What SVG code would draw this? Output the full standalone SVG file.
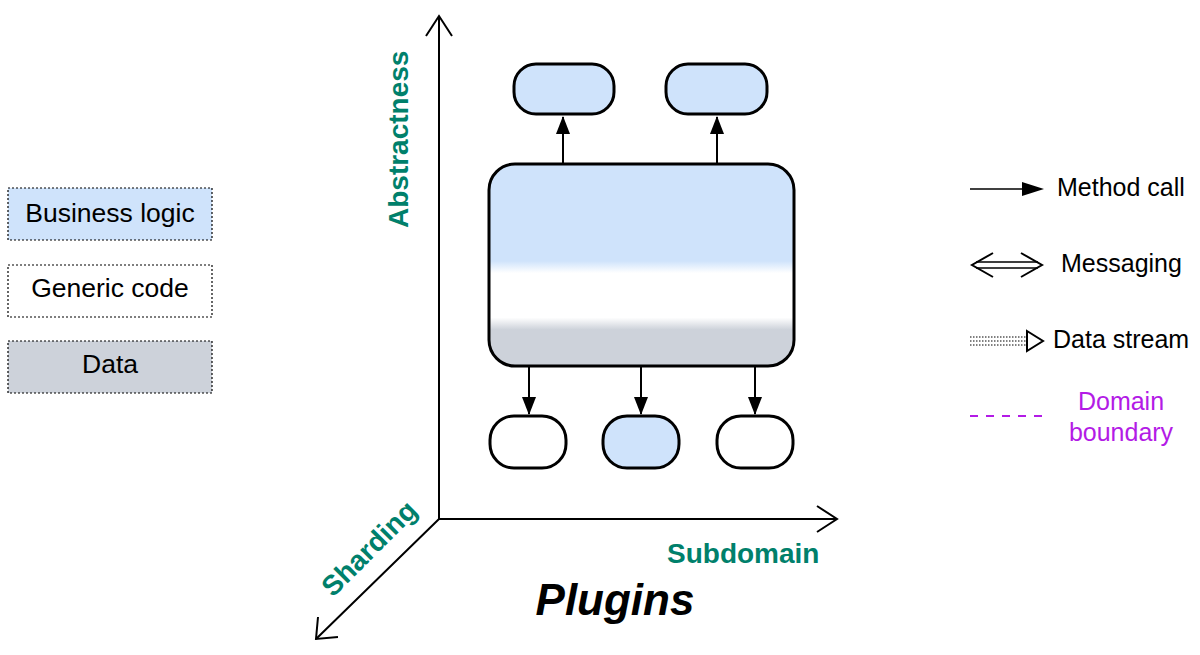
<svg xmlns="http://www.w3.org/2000/svg" width="1200" height="655" viewBox="0 0 1200 655">
<style>
.t{font-family:"Liberation Sans",Arial,sans-serif;font-size:26.5px;fill:#000}
.ax{font-family:"Liberation Sans",Arial,sans-serif;font-size:28px;font-weight:bold;fill:#00806b}
.lg{stroke:#000;stroke-width:1.2;stroke-dasharray:2 2}
.nd{stroke:#000;stroke-width:3}
.ln{stroke:#000;stroke-width:2;fill:none}
.lt{font-family:"Liberation Sans",Arial,sans-serif;font-size:25px;fill:#000}
</style>
<defs>
<linearGradient id="g" x1="0" y1="0" x2="0" y2="1">
<stop offset="0.48" stop-color="#cfe3fb"/>
<stop offset="0.54" stop-color="#fff"/>
<stop offset="0.76" stop-color="#fff"/>
<stop offset="0.82" stop-color="#cdd2da"/>
</linearGradient>
<marker id="a" markerWidth="18" markerHeight="14" refX="17" refY="7" orient="auto" markerUnits="userSpaceOnUse" viewBox="0 0 18 14"><path d="M0,0L18,7L0,14Z" fill="#000"/></marker>
</defs>
<g id="legend-boxes">
<rect x="8" y="188" width="204" height="52" fill="#cfe3fb" class="lg"/>
<text x="110" y="222" text-anchor="middle" class="t">Business logic</text>
<rect x="8" y="265" width="204" height="52" fill="#fff" class="lg"/>
<text x="110" y="297" text-anchor="middle" class="t">Generic code</text>
<rect x="8" y="341" width="204" height="52" fill="#cdd2da" class="lg"/>
<text x="110" y="373" text-anchor="middle" class="t">Data</text>
</g>
<g id="axes">
<path class="ln" d="M439,519V16M439,519H837M439,519L316,639"/>
<path class="ln" d="M426,36L439,16L452,36M817,506L837,519L817,532M318,617L316,639L338,637"/>
<text class="ax" transform="translate(408,228) rotate(-90)">Abstractness</text>
<text class="ax" x="667" y="563">Subdomain</text>
<text class="ax" transform="translate(333,598) rotate(-45)">Sharding</text>
<text x="615" y="615" text-anchor="middle" style="font-family:'Liberation Sans',Arial,sans-serif;font-size:44px;font-weight:bold;font-style:italic">Plugins</text>
</g>
<g id="main"><rect x="489" y="164" width="305" height="202" rx="26" fill="url(#g)" class="nd"/></g>
<g id="top1"><rect x="514" y="64" width="100" height="50" rx="22" fill="#cfe3fb" class="nd"/></g>
<g id="top2"><rect x="666" y="64" width="101" height="50" rx="22" fill="#cfe3fb" class="nd"/></g>
<g id="bot1"><rect x="490" y="416" width="76" height="52" rx="24" fill="#fff" class="nd"/></g>
<g id="bot2"><rect x="603" y="416" width="76" height="52" rx="24" fill="#cfe3fb" class="nd"/></g>
<g id="bot3"><rect x="717" y="416" width="76" height="52" rx="24" fill="#fff" class="nd"/></g>
<g id="connectors">
<line class="ln" x1="563" y1="163" x2="563" y2="117" marker-end="url(#a)"/>
<line class="ln" x1="717" y1="163" x2="717" y2="117" marker-end="url(#a)"/>
<line class="ln" x1="529" y1="367" x2="529" y2="414" marker-end="url(#a)"/>
<line class="ln" x1="641" y1="367" x2="641" y2="414" marker-end="url(#a)"/>
<line class="ln" x1="755" y1="367" x2="755" y2="414" marker-end="url(#a)"/>
</g>
<g id="legend">
<line x1="970" y1="189" x2="1030" y2="189" stroke="#000" stroke-width="1.5"/>
<path d="M1022,182L1044,189L1022,196Z" fill="#000"/>
<text class="lt" x="1057" y="196">Method call</text>
<path d="M976,262H1038M976,268H1038" stroke="#000" stroke-width="1.5" fill="none"/>
<path d="M993,253L972,265L993,277M1021,253L1042,265L1021,277" stroke="#000" stroke-width="2" fill="none"/>
<text class="lt" x="1061" y="272">Messaging</text>
<path d="M970,337H1026M970,341H1026M970,345H1026" stroke="#000" stroke-width="1" stroke-dasharray="1.5 1.5"/>
<path d="M1027,331L1043,341L1027,351Z" fill="#fff" stroke="#000" stroke-width="2"/>
<text class="lt" x="1053" y="348">Data stream</text>
<line x1="970" y1="416" x2="1046" y2="416" stroke="#b31be6" stroke-width="2" stroke-dasharray="8 8"/>
<text x="1121" y="410" text-anchor="middle" style="font-family:'Liberation Sans',Arial,sans-serif;font-size:25px;fill:#b31be6">Domain</text>
<text x="1121" y="441" text-anchor="middle" style="font-family:'Liberation Sans',Arial,sans-serif;font-size:25px;fill:#b31be6">boundary</text>
</g>
</svg>
